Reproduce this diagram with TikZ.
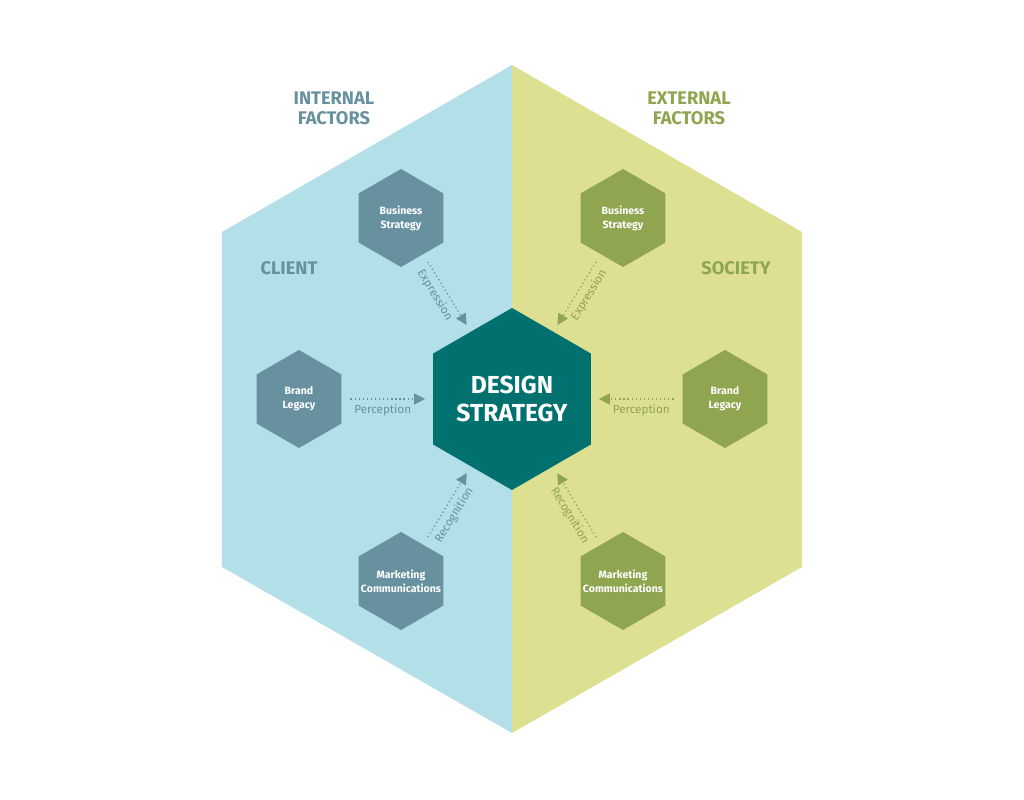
\documentclass[tikz,border=0pt]{standalone}
\usepackage{fontspec}
\setmainfont{Fira Sans}
\usepackage{xcolor}
\usetikzlibrary{arrows.meta, positioning, shapes.geometric}

\definecolor{clientbg}{HTML}{B3E0E8}
\definecolor{societybg}{HTML}{DDE090}
\definecolor{coreteal}{HTML}{00716F}
\definecolor{clientdark}{HTML}{6891A0}
\definecolor{societydark}{HTML}{8FA54F}

\tikzset{
  hexa/.style={regular polygon, regular polygon sides=6, shape border rotate=30,
    inner sep=0pt, outer sep=0pt},
  smallhex/.style={hexa, minimum size=2.45cm},
  corehex/.style={hexa, fill=coreteal, minimum size=4.55cm},
  smalltext/.style={text=white, align=center, font=\bfseries\fontsize{7.5}{10}\selectfont},
  coretext/.style={text=white, align=center, font=\bfseries\fontsize{17.5}{20.5}\selectfont},
  title/.style={align=center, font=\bfseries\fontsize{13}{14}\selectfont},
  flow/.style={line width=0.9pt, dash pattern=on 0.9pt off 2pt,
    -{Triangle[length=7.8pt, width=7.8pt]}, shorten <=0.225cm, shorten >=0.2cm},
  flowlabel/.style={font=\fontsize{8.3}{9}\selectfont, sloped, below=2.5pt, inner sep=1pt}
}

\begin{document}
\begin{tikzpicture}[x=0.025cm, y=0.025cm]
            \useasboundingbox (-512,-401) rectangle (512,399);
            \fill[clientbg] (0,334) -- (-290,167) -- (-290,-168) -- (0,-334) -- cycle;
            \fill[societybg] (0,334) -- (290,167) -- (290,-168) -- (0,-334) -- cycle;

            \node[corehex, label={[coretext]center:DESIGN\\STRATEGY}](core) at (0,0) {};

            \node[smallhex, fill=clientdark, label={[smalltext]center:Business\\Strategy}](cbiz) at (-111,181) {};
            \node[smallhex, fill=clientdark, label={[smalltext]center:Brand\\Legacy}](cbrand) at (-213,0) {};
            \node[smallhex, fill=clientdark, label={[smalltext]center:Marketing\\Communications}](cmarket) at (-111,-182) {};
            \node[smallhex, fill=societydark, label={[smalltext]center:Business\\Strategy}](sbiz) at (111,181) {};
            \node[smallhex, fill=societydark, label={[smalltext]center:Brand\\Legacy}](sbrand) at (213,0) {};
            \node[smallhex, fill=societydark, label={[smalltext]center:Marketing\\Communications}](smarket) at (111,-182) {};

            \node[title, text=clientdark](internal) at (-178,291) {INTERNAL\\FACTORS};
            \node[title, text=societydark](external) at (177,291) {EXTERNAL\\FACTORS};
            \node[title, text=clientdark](client) at (-223,131) {CLIENT};
            \node[title, text=societydark](society) at (224,131) {SOCIETY};

            \draw[flow, clientdark] (cbiz) -- node[flowlabel, pos=0.45] {Expression} (core);
            \draw[flow, clientdark] (cbrand) -- node[flowlabel, pos=0.45] {Perception} (core);
            \draw[flow, clientdark] (cmarket) -- node[flowlabel, pos=0.45] {Recognition} (core);
            \draw[flow, societydark] (sbiz) -- node[flowlabel, pos=0.45] {Expression} (core);
            \draw[flow, societydark] (sbrand) -- node[flowlabel, pos=0.45] {Perception} (core);
            \draw[flow, societydark] (smarket) -- node[flowlabel, pos=0.45] {Recognition} (core);
        \end{tikzpicture}
\end{document}
